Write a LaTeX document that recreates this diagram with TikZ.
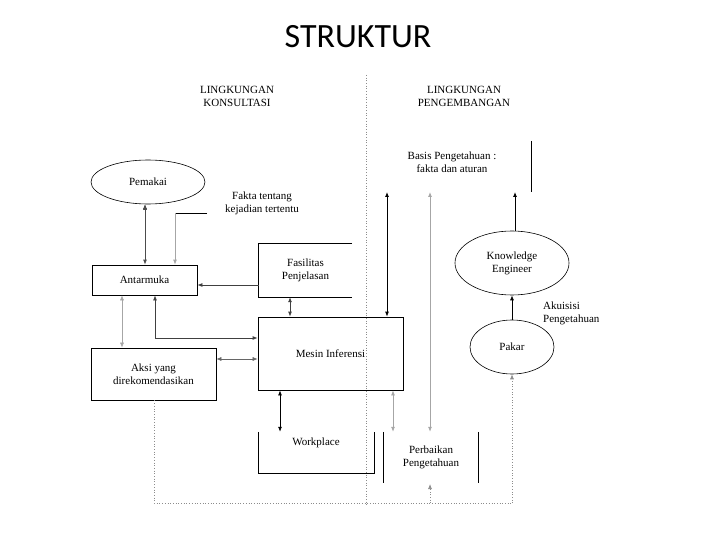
\documentclass[tikz,border=0pt]{standalone}
\usepackage{fontspec}
\setmainfont{Liberation Serif}
\newfontfamily\titlefont{Carlito}
\usetikzlibrary{arrows.meta,shapes.geometric}
\begin{document}
\begin{tikzpicture}[x=1pt,y=-1pt,
  txt/.style={font=\fontsize{11}{13}\selectfont,align=center,inner sep=0pt},
  box/.style={draw,line width=0.8pt},
  ell/.style={draw,ellipse,line width=0.6pt,font=\fontsize{11}{13}\selectfont,align=center,inner sep=0pt},
  ar/.style={line width=0.8pt,-{Latex[length=5pt,width=4pt]}},
  dar/.style={line width=0.8pt,{Latex[length=5pt,width=4pt]}-{Latex[length=5pt,width=4pt]}},
  gray/.style={draw=black!35},
  dots/.style={draw=black!45,dotted,line width=0.7pt}]
\useasboundingbox (0,0) rectangle (720,540);
\node[font=\titlefont\fontsize{34}{40}\selectfont] (title) at (358,37) {STRUKTUR};
\coordinate (sepT) at (366,75); \coordinate (sepB) at (366,505);
\draw[dots] (sepT) -- (sepB);
\node[txt] (lk) at (237,96) {LINGKUNGAN\\KONSULTASI};
\node[txt] (lp) at (464,96) {LINGKUNGAN\\PENGEMBANGAN};
% nodes
\node[ell,minimum width=114pt,minimum height=44pt] (pem) at (148,182) {Pemakai};
\node[txt] (fakta) at (262,203) {Fakta tentang\\kejadian tertentu};
\node[box,minimum width=105pt,minimum height=30pt,txt,draw] (ant) at (144.5,280) {Antarmuka};
\node[txt,minimum width=93pt,minimum height=53pt] (fas) at (305.5,270.5) {Fasilitas\\Penjelasan};
\draw[box] (fas.north east) -- (fas.north west) -- (fas.south west) -- (fas.south east);
\node[box,draw,txt,minimum width=145pt,minimum height=73pt] (mes) at (330.5,353.5) {Mesin Inferensi};
\node[box,draw,txt,minimum width=125pt,minimum height=52pt] (aksi) at (153.5,374) {Aksi yang\\direkomendasikan};
\node[txt] (basis) at (452,162) {Basis Pengetahuan :\\fakta dan aturan};
\coordinate (bl1) at (531,141); \coordinate (bl2) at (531,192);
\draw[line width=0.8pt] (bl1) -- (bl2);
\node[ell,minimum width=114pt,minimum height=64pt] (ke) at (512,263) {Knowledge\\Engineer};
\node[txt,align=left,anchor=west] (aku) at (543,313) {Akuisisi\\Pengetahuan};
\node[ell,minimum width=84pt,minimum height=54pt] (pak) at (512,347) {Pakar};
\node[txt,minimum width=115pt,minimum height=41pt] (wp) at (316.5,452.5) {};
\node[txt] (wpt) at (316,443) {Workplace};
\draw[box] (wp.north west) -- (wp.south west) -- (wp.south east) -- (wp.north east);
\node[txt,minimum width=94pt,minimum height=51pt] (per) at (431,457.5) {Perbaikan\\Pengetahuan};
\draw[box] (per.north west) -- (per.south west);
\draw[box] (per.north east) -- (per.south east);
% connectors
\draw[dar,draw=black!70] (pem.south -| 145,0) ++(0,0) coordinate (p1);
\draw[dar,draw=black!70] (145,205) coordinate (a1) -- (ant.north -| a1);
\coordinate (fl) at (175,213); \coordinate (fr) at (207,213);
\draw[line width=0.8pt] (fr) -- (fl);
\draw[ar,gray] (fl) -- (ant.north -| fl);
\draw[ar,draw=black!75] (fas.west |- 0,285) -- (ant.east |- 0,285);
\draw[dar,gray,line width=0.5pt] (ant.south -| 122,0) -- (aksi.north -| 122,0);
\coordinate (c1) at (155,338);
\draw[ar,draw=black!75] (c1) -- (ant.south -| c1);
\draw[ar,draw=black!75] (c1) -- (mes.west |- c1);
\draw[dar,draw=black!75] (fas.south -| 290,0) -- (mes.north -| 290,0);
\draw[dar,draw=black!60,line width=0.5pt] (aksi.east |- 0,359) -- (mes.west |- 0,359);
\draw[dar] (bl2 -| 387,0) -- (mes.north -| 387,0);
\draw[dar,gray] (bl2 -| 430,0) -- (per.north -| 430,0);
\draw[ar] (ke.north -| 515,0) -- (bl2 -| 515,0);
\draw[ar] (pak.north) -- (ke.south);
\draw[dar] (mes.south -| 280,0) -- (wp.north -| 280,0);
\draw[dar,gray] (mes.south -| 393,0) -- (per.north -| 393,0);
\coordinate (d1) at (154,503); \coordinate (d2) at (512,503); \coordinate (d3) at (430,503);
\draw[dots] (aksi.south -| d1) -- (d1) -- (d2);
\draw[dots,-{Latex[length=5pt,width=4pt]}] (d2) -- (pak.south);
\draw[dots,-{Latex[length=5pt,width=4pt]}] (d3) -- (430,484) coordinate (d4);
\end{tikzpicture}
\end{document}
